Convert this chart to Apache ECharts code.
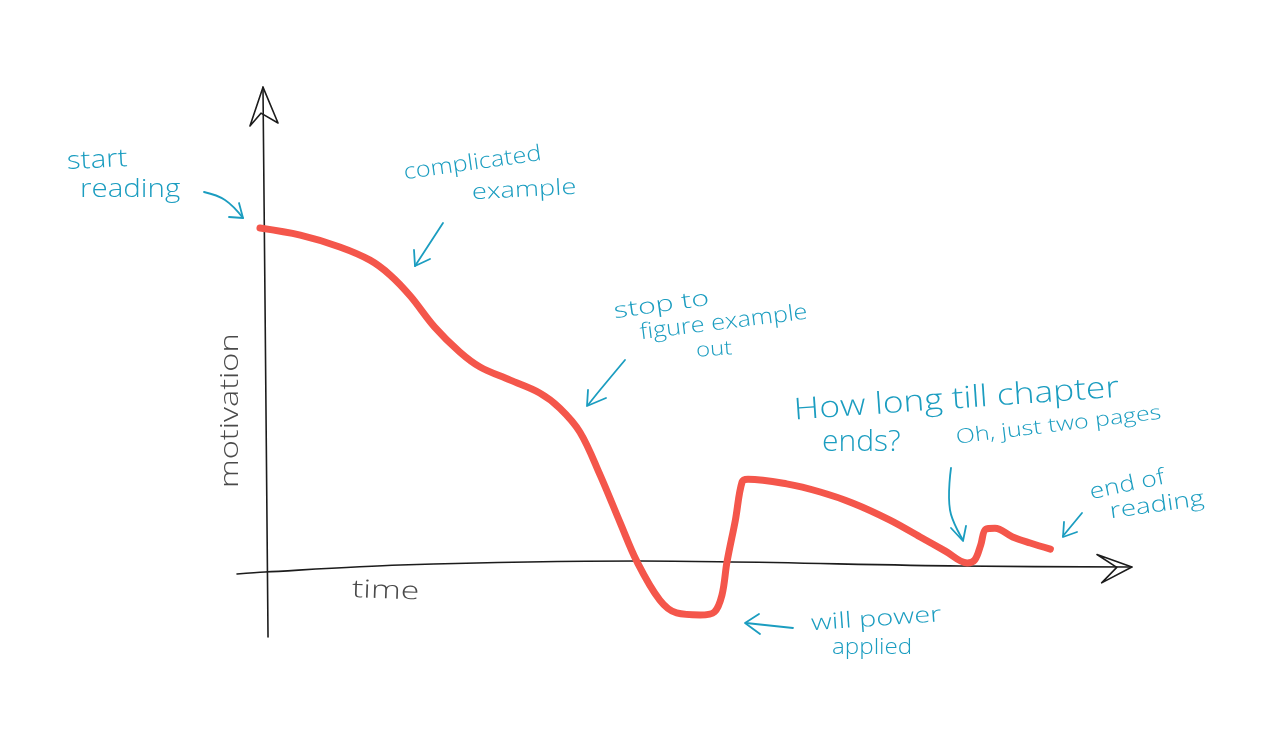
<!DOCTYPE html>
<html>
<head>
<meta charset="utf-8">
<script src="https://cdn.jsdelivr.net/npm/echarts@6/dist/echarts.min.js"></script>
<style>
  html, body { margin: 0; padding: 0; background: #ffffff; }
  #chart { width: 1280px; height: 754px; }
</style>
</head>
<body>
<div id="chart"></div>
<script>
// ---- data (time units, motivation units) ----
const motivationCurve = [
  [-0.6, 100], [4.2, 97.9], [8.9, 94.4], [12.5, 90.5], [14.9, 86.1], [17.3, 79.9],
  [20.2, 70.7], [23.2, 63.3], [25.6, 58.9], [29.2, 55.0], [32.7, 51.2], [35.1, 46.7],
  [37.5, 39.6], [39.9, 26.9], [42.3, 12.7], [44.3, 1.2], [47.0, -10.1], [49.0, -13.9],
  [51.8, -14.5], [53.5, -13.6], [54.4, -8.6], [55.0, 1.2], [56.0, 13.6], [56.8, 24.9],
  [57.5, 25.7], [62.1, 24.3], [66.1, 21.9], [70.0, 18.6], [74.4, 13.6], [78.0, 8.6],
  [81.0, 4.4], [83.6, 0.9], [84.5, 1.8], [85.2, 6.2], [85.8, 10.9], [86.9, 11.2],
  [89.0, 8.6], [91.1, 6.8], [93.5, 5.0]
];
// hand-drawn axes, in the same data units
const timeAxisSketch = [[-3.33, -2.37], [0, -1.78], [16.1, 0.3], [44.6, 1.48], [82.7, 0], [103.2, -0.3]];
const timeArrowSketch = [[99.05, 3.4], [103.2, -0.3], [99.6, -5.0], [101.4, -0.4], [99.05, 3.4]];
const motivationAxisSketch = [[-0.24, 141.7], [0, 78.7], [0.36, -21.0]];
const motivationArrowSketch = [[-1.79, 130.2], [-0.24, 141.7], [1.55, 131.1], [-0.48, 134.0], [-1.79, 130.2]];

const axisNames = { x: 'time', y: 'motivation' };
const notes = {
  start: ['start', 'reading'],
  complicated: ['complicated', 'example'],
  stop: ['stop to', 'figure example', 'out'],
  howLong: ['How long till chapter', 'ends?'],
  twoPages: ['Oh, just two pages'],
  end: ['end of', 'reading'],
  willPower: ['will power', 'applied']
};

const TEAL = '#1b9dc0';
const INK = '#1c1c1c';
const FONT = '"Open Sans", "Lato", sans-serif';

function txt(text, x, y, size, rot, sx, color) {
  return {
    type: 'text', x: x, y: y, rotation: (rot || 0) * Math.PI / 180,
    scaleX: sx || 1, scaleY: 1,
    style: { text: text, font: '300 ' + size + 'px ' + FONT, fill: color || TEAL,
             textAlign: 'left', textVerticalAlign: 'middle' }
  };
}
function curve(points, smooth) {
  return { type: 'polyline', shape: { points: points, smooth: smooth || 0 },
           style: { stroke: TEAL, lineWidth: 1.8, fill: null, lineCap: 'round', lineJoin: 'round' } };
}

const chart = echarts.init(document.getElementById('chart'), null, { renderer: 'canvas' });

const sketchStyle = { color: INK, width: 1.6, cap: 'round', join: 'round' };

chart.setOption({
  animation: false,
  backgroundColor: '#ffffff',
  grid: { left: 223, right: 133, top: 76, bottom: 103.5 },
  xAxis: { type: 'value', min: -5, max: 105, show: false },
  yAxis: { type: 'value', min: -25, max: 145, show: false },
  series: [
    { type: 'line', data: timeAxisSketch, smooth: 0.3, symbol: 'none', lineStyle: sketchStyle, z: 2 },
    { type: 'line', data: timeArrowSketch, symbol: 'none', lineStyle: sketchStyle, z: 2 },
    { type: 'line', data: motivationAxisSketch, smooth: 0.3, symbol: 'none', lineStyle: sketchStyle, z: 2 },
    { type: 'line', data: motivationArrowSketch, symbol: 'none', lineStyle: sketchStyle, z: 2 },
    {
      type: 'line', data: motivationCurve, smooth: 0.35, symbol: 'none', z: 5,
      lineStyle: { color: '#f4564b', width: 7, cap: 'round', join: 'round' }
    }
  ],
  graphic: [
    // axis names
    txt(axisNames.x, 352, 590, 25, -2, 1.35, '#4a4a4a'),
    txt(axisNames.y, 231, 488, 25, 90, 1.3, '#4a4a4a'),
    // start reading
    txt(notes.start[0], 67, 162, 25, 3, 1.18),
    txt(notes.start[1], 80, 190, 25, 0, 1.18),
    curve([[204, 192], [225, 200], [243, 218]], 0.4),
    curve([[229, 217], [243, 218], [239, 203]]),
    // complicated example
    txt(notes.complicated[0], 404, 173, 22, 8, 1.15),
    txt(notes.complicated[1], 472, 193, 22, 3, 1.24),
    curve([[443, 223], [415, 266]]),
    curve([[414, 250], [415, 266], [430, 259]]),
    // stop to figure example out
    txt(notes.stop[0], 614, 312, 22, 8, 1.38),
    txt(notes.stop[1], 640, 333, 22, 7, 1.15),
    txt(notes.stop[2], 696, 351, 20, 4, 1.2),
    curve([[625, 360], [600, 390], [588, 405]], 0.3),
    curve([[588, 390], [587, 406], [606, 398]]),
    // how long till chapter ends
    txt(notes.howLong[0], 794, 411, 30, 4, 1.18),
    txt(notes.howLong[1], 822, 442, 30, 0, 1.0),
    txt(notes.twoPages[0], 956, 438, 20, 7, 1.25),
    curve([[951, 468], [950, 510], [963, 540]], 0.4),
    curve([[951, 528], [963, 541], [966, 526]]),
    // end of reading
    txt(notes.end[0], 1090, 493, 22, 12, 1.2),
    txt(notes.end[1], 1110, 512, 22, 8, 1.27),
    curve([[1082, 513], [1063, 536]]),
    curve([[1064, 522], [1063, 537], [1077, 532]]),
    // will power applied
    txt(notes.willPower[0], 811, 624, 22, 4, 1.32),
    txt(notes.willPower[1], 832, 648, 22, 0, 1.1),
    curve([[793, 628], [746, 623]]),
    curve([[759, 614], [745, 623], [760, 634]])
  ]
});
</script>
</body>
</html>
